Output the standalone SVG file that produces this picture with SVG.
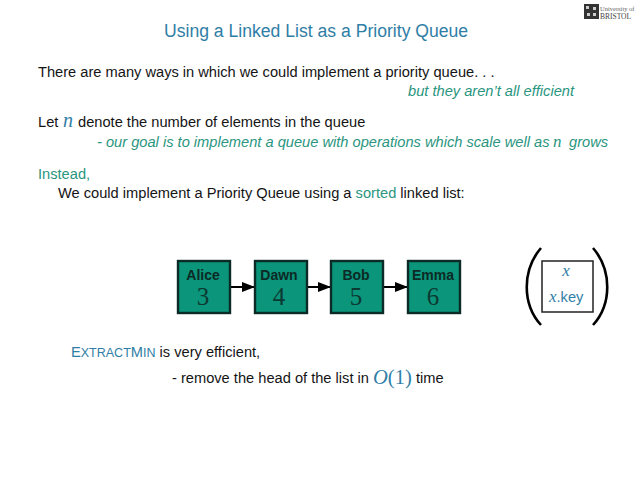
<svg xmlns="http://www.w3.org/2000/svg" width="638" height="479" viewBox="0 0 638 479">
<style>
text{font-family:"Liberation Sans",Arial,sans-serif;font-size:14.65px;fill:#141414}
.g{fill:#2a9580}
.i{font-style:italic}
.b{fill:#2f7ea6}
.mi{font-family:"Liberation Serif",serif;font-style:italic;font-size:20px;fill:#2f7ea6}
.box{fill:#0b957a;stroke:#0c2a26;stroke-width:2.4}
.nm{font-weight:bold;font-size:14px;text-anchor:middle;fill:#0c2a26}
.num{font-family:"Liberation Serif",serif;font-size:25px;text-anchor:middle;fill:#0c3a32}
.c{stroke:#000;stroke-width:2;fill:none;marker-end:url(#a)}
.par{stroke:#000;stroke-width:2.6;fill:none}
.sc{font-size:12.5px}
</style>
<defs><marker id="a" markerUnits="userSpaceOnUse" markerWidth="14" markerHeight="12" refX="13" refY="6" orient="auto"><path d="M0 1L13 6L0 11Z" fill="#000"/></marker></defs>
<rect width="638" height="479" fill="#fff"/>
<text id="title" x="164" y="37" style="font-size:17.6px;fill:#2f7ea6">Using a Linked List as a Priority Queue</text>
<g id="logo">
<rect x="584" y="4" width="15" height="15" fill="#333"/>
<path d="M586 6h3v3h-3zM593 7h3v3h-3zM587 13h3v3h-3zM593 13h3v3h-3z" fill="#ccc"/>
<text x="600" y="11" style="font-family:'Liberation Serif',serif;font-size:6.5px;fill:#666">University of</text>
<text x="600" y="18.500" style="font-family:'Liberation Serif',serif;font-size:7.500px;fill:#444">BRISTOL</text>
</g>
<text x="38" y="77">There are many ways in which we could implement a priority queue. . .</text>
<text class="g i" x="408" y="96">but they aren’t all efficient</text>
<text x="38" y="127">Let</text>
<text class="mi" x="63" y="127">n</text>
<text x="78" y="127">denote the number of elements in the queue</text>
<text class="g i" x="97" y="147">- our goal is to implement a queue with operations which scale well as</text>
<text class="mi" x="553" y="147" style="fill:#2a9580;font-size:17px">n</text>
<text class="g i" x="569" y="147">grows</text>
<text class="g" x="38" y="179">Instead,</text>
<text x="58" y="198">We could implement a Priority Queue using a <tspan class="g">sorted</tspan> linked list:</text>
<g id="connectors">
<path class="c" d="M230 287H255"/>
<path class="c" d="M307 287H331"/>
<path class="c" d="M383 287H408"/>
</g>
<g id="node-alice"><rect class="box" x="178" y="261" width="52" height="52"/><text class="nm" x="203" y="280">Alice</text><text class="num" x="203" y="305">3</text></g>
<g id="node-dawn"><rect class="box" x="255" y="261" width="52" height="52"/><text class="nm" x="279" y="280">Dawn</text><text class="num" x="279" y="305">4</text></g>
<g id="node-bob"><rect class="box" x="331" y="261" width="52" height="52"/><text class="nm" x="356" y="280">Bob</text><text class="num" x="356" y="305">5</text></g>
<g id="node-emma"><rect class="box" x="408" y="261" width="52" height="52"/><text class="nm" x="433" y="280">Emma</text><text class="num" x="433" y="305">6</text></g>
<g id="node-legend">
<rect x="542" y="261" width="51" height="51" fill="#fff" stroke="#222" stroke-width="1.500"/>
<text class="mi" x="566" y="276" text-anchor="middle" style="font-size:17px">x</text>
<text x="549" y="302" style="fill:#2f7ea6"><tspan class="mi" style="font-size:17px">x</tspan>.key</text>
<path class="par" d="M541 248C522 270 522 304 541 325"/>
<path class="par" d="M593 248C612 270 612 304 593 325"/>
</g>
<text class="b" x="71" y="357">E<tspan class="sc">XTRACT</tspan>M<tspan class="sc">IN</tspan> <tspan style="fill:#141414">is very efficient,</tspan></text>
<text x="172" y="383">- remove the head of the list in</text>
<text x="373" y="384" style="font-family:'Liberation Serif',serif;font-size:20.5px;fill:#2f7ea6"><tspan font-style="italic">O</tspan>(1)</text>
<text x="416" y="383">time</text>
</svg>
